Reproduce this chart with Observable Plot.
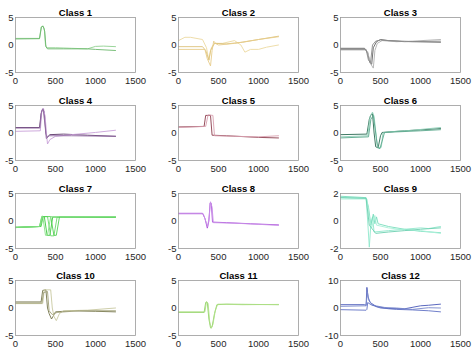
<!DOCTYPE html>
<html><head><meta charset="utf-8">
<script src="https://cdn.jsdelivr.net/npm/d3@7"></script>
<script src="https://cdn.jsdelivr.net/npm/@observablehq/plot@0.6"></script>
<style>
body{margin:0;background:#fff;}
#wrap{position:relative;width:474px;height:356px;overflow:hidden;background:#fff;}
#wrap svg{position:absolute;overflow:visible;}
</style></head><body><div id="wrap"></div>
<script>
// ---- data: [x, y] points ----
const xTicks = [0, 500, 1000, 1500];
const yTicks5 = [-5, 0, 5];
const yTicks2 = [-2, 0, 2];
const yTicks10 = [-10, 0, 10];
const titles = ["Class 1","Class 2","Class 3","Class 4","Class 5","Class 6","Class 7","Class 8","Class 9","Class 10","Class 11","Class 12"];

const c1a = [[0,1.2],[300,1.2],[320,3.2],[340,3.5],[360,3.0],[375,0],[390,-0.5],[500,-0.5],[700,-0.6],[900,-0.7],[1000,-0.25],[1100,-0.2],[1250,-0.3]];
const c1b = [[0,1.1],[300,1.15],[325,3.3],[345,3.4],[365,2.5],[380,-0.3],[400,-0.7],[600,-0.7],[900,-0.7],[1000,-0.8],[1250,-1.0]];

const c2a = [[0,0.8],[80,1.4],[150,1.4],[300,1.0],[350,-0.5],[380,-2.8],[410,-0.5],[450,0.3],[550,0.3],[700,0.8],[780,0],[830,-1.3],[900,-0.8],[1000,-0.8],[1100,-0.4],[1250,0.0]];
const c2b = [[0,-0.3],[300,-0.3],[340,-1.0],[380,-2.7],[400,-1.0],[450,0.3],[600,0.2],[800,0.5],[1000,1.0],[1250,1.6]];
const c2c = [[0,-0.8],[330,-0.8],[360,-2.5],[400,-3.8],[420,-1.0],[440,0.7],[470,0.2],[500,0.0],[700,0.3],[1000,1.0],[1250,1.5]];

const c3a = [[0,-0.6],[300,-0.6],[340,-1.5],[370,-3.3],[390,-3.5],[410,-0.5],[450,0.6],[500,1.0],[600,0.8],[900,0.6],[1250,0.5]];
const c3b = [[0,-0.9],[300,-0.9],[340,-1.2],[360,-2.5],[380,-3.5],[410,-4.2],[430,-1.0],[460,0.3],[520,0.8],[700,0.6],[900,0.7],[1250,1.0]];
const c3c = [[0,-0.8],[320,-0.8],[350,-2.8],[375,-3.2],[400,0],[440,0.7],[500,0.9],[800,0.6],[1250,0.7]];

const c4a = [[0,1.0],[300,1.0],[320,3.5],[340,4.4],[360,3.8],[380,0],[395,-0.8],[430,-0.3],[600,-0.2],[900,-0.4],[1250,-0.6]];
const c4b = [[0,0.3],[310,0.4],[330,4.2],[350,4.5],[370,3.0],[390,-0.5],[400,-2.0],[430,-1.2],[500,-0.6],[700,-0.3],[1000,0.1],[1250,0.5]];
const c4c = [[0,0.9],[305,0.9],[325,4.0],[345,4.3],[365,2.0],[385,-1.0],[420,-0.5],[700,-0.5],[1250,-0.6]];

const c5a = [[0,1.1],[320,1.2],[340,3.2],[400,3.2],[420,-0.4],[600,-0.5],[1000,-0.8],[1250,-0.9]];
const c5b = [[0,1.0],[340,1.2],[370,3.3],[430,3.2],[450,-0.5],[700,-0.6],[1000,-0.7],[1250,-0.5]];

const c6a = [[0,-0.3],[330,-0.2],[360,2.5],[380,3.3],[400,3.5],[420,0],[440,-2.5],[470,-2.7],[500,-0.5],[520,0.1],[800,0.4],[1250,0.8]];
const c6b = [[0,-0.7],[340,-0.5],[370,3.0],[400,3.8],[420,3.0],[450,-1.0],[470,-2.8],[510,-2.6],[530,0],[600,0.2],[900,0.5],[1250,1.0]];
const c6c = [[0,-0.9],[350,-0.7],[380,2.5],[410,3.2],[440,0],[460,-2.3],[490,-2.9],[520,-1.5],[550,0.1],[1000,0.4],[1250,0.6]];

const c7a = [[0,-1.2],[300,-1.0],[330,0.8],[360,0.8],[395,-2.6],[430,-2.6],[465,0.7],[1250,0.7]];
const c7b = [[0,-1.2],[310,-1.0],[340,0.8],[400,0.8],[440,-2.7],[480,-2.7],[520,0.7],[1250,0.75]];
const c7c = [[0,-1.1],[320,-1.0],[345,0.8],[440,0.8],[480,-2.6],[510,-2.6],[550,0.8],[1250,0.7]];
const c7d = [[0,-1.15],[300,-1.0],[330,0.9],[340,0.9],[375,-2.6],[400,-2.6],[440,0.8],[1250,0.8]];

const c8a = [[0,1.4],[300,1.4],[330,0.5],[360,-1.3],[380,0],[395,3.3],[410,3.2],[425,-0.2],[600,-0.3],[900,-0.5],[1250,-0.7]];
const c8b = [[0,1.3],[310,1.3],[340,0],[365,-1.0],[385,1.0],[400,3.5],[420,2.5],[435,-0.3],[700,-0.4],[1000,-0.6],[1250,-0.8]];

const c9a = [[0,1.7],[320,1.65],[340,0],[360,-1.9],[380,-0.2],[400,0.3],[420,-0.8],[600,-0.7],[800,-0.6],[1000,-0.5],[1100,-0.55],[1250,-0.4]];
const c9b = [[0,1.8],[320,1.7],[350,1.0],[380,-0.3],[410,0.5],[430,-0.2],[450,0.3],[470,-0.2],[600,-0.4],[800,-0.6],[1000,-0.75],[1250,-0.85]];
const c9c = [[0,1.6],[330,1.6],[360,0.2],[390,-0.5],[430,0.4],[450,-0.3],[600,-0.5],[800,-0.65],[1000,-0.7],[1250,-0.9]];
const c9d = [[0,1.7],[320,1.65],[360,-0.3],[440,-0.9],[600,-0.8],[800,-0.7],[1000,-0.6],[1250,-0.5]];

const c10a = [[0,1.1],[320,1.1],[340,3.2],[380,3.3],[400,0],[420,-1.0],[450,-2.0],[470,-1.5],[500,-0.7],[700,-0.5],[1000,-0.6],[1250,-0.7]];
const c10b = [[0,0.8],[340,0.8],[360,3.3],[440,3.3],[460,0],[480,-1.5],[510,-2.3],[550,-1.0],[600,-0.5],[900,-0.4],[1250,0.0]];
const c10c = [[0,0.9],[330,0.9],[350,2.8],[400,3.0],[420,-0.5],[460,-1.2],[520,-0.8],[800,-0.5],[1250,-0.5]];

const c11a = [[0,-0.8],[320,-0.8],[340,1.0],[360,1.0],[380,-2.0],[400,-3.6],[420,-3.4],[450,-1.0],[480,0.6],[600,0.7],[1250,0.6]];
const c11b = [[0,-0.7],[330,-0.7],[350,1.2],[370,0.8],[390,-2.5],[410,-3.7],[430,-3.0],[460,-0.5],[490,0.7],[800,0.6],[1250,0.65]];

const c12a = [[0,1.2],[300,1.2],[320,1.0],[330,7.5],[345,4.0],[370,2.0],[450,0.5],[600,-0.2],[800,-0.3],[1000,0.8],[1100,1.0],[1250,1.4]];
const c12b = [[0,0.6],[320,0.8],[335,6.0],[350,3.0],[400,1.0],[550,0.2],[700,0],[900,-0.5],[1100,0.1],[1250,0.0]];
const c12c = [[0,-0.6],[320,-0.8],[330,-0.5],[340,2.0],[380,1.2],[500,0],[700,-0.5],[900,-0.7],[1100,-1.0],[1250,-1.4]];

const seriesByClass = [
  [c1a,c1b],[c2a,c2b,c2c],[c3a,c3b,c3c],[c4a,c4b,c4c],[c5a,c5b],[c6a,c6b,c6c],
  [c7a,c7b,c7c,c7d],[c8a,c8b],[c9a,c9b,c9c,c9d],[c10a,c10b,c10c],[c11a,c11b],[c12a,c12b,c12c]
];
const colorsByClass = [
  ["#8fd08f","#6cb86c"],
  ["#ecd9a0","#dcc27a","#e6cc8a"],
  ["#606060","#b0b0b0","#888888"],
  ["#5a3468","#c8a0d8","#9068a0"],
  ["#8a3a4a","#d8a0b0"],
  ["#2a6a52","#8fd0b8","#5aa88c"],
  ["#3cc83c","#6cd86c","#50d050","#88e088"],
  ["#a848d8","#c890e8"],
  ["#90e8cc","#78dcbc","#a8f0d8","#6ccfb0"],
  ["#74744a","#c8c8a0","#a0a078"],
  ["#8cd060","#b0e088"],
  ["#4858b8","#7888cc","#6070c4"]
];
const yDomains = [[-5,5],[-5,5],[-5,5],[-5,5],[-5,5],[-5,5],[-5,5],[-5,5],[-2,2],[-5,5],[-5,5],[-10,10]];
const yTickSets = [yTicks5,yTicks5,yTicks5,yTicks5,yTicks5,yTicks5,yTicks5,yTicks5,yTicks2,yTicks5,yTicks5,yTicks10];

// ---- layout ----
const colLeft = [15, 177.5, 340];
const rowTop = [17, 105, 192.5, 280];
const PW = 120, PH = 55, ML = 16, MR = 14, MT = 17, MB = 16;
const wrap = document.getElementById("wrap");

titles.forEach((t, i) => {
  const col = i % 3, row = Math.floor(i / 3);
  const lines = seriesByClass[i].map((s, k) =>
    Plot.line(s, {x: d => d[0], y: d => d[1], stroke: colorsByClass[i][k], strokeWidth: 0.9}));
  const svg = Plot.plot({
    width: ML + PW + MR, height: MT + PH + MB,
    marginLeft: ML, marginRight: MR, marginTop: MT, marginBottom: MB,
    style: {fontFamily: "'Liberation Sans', Arial, sans-serif", fontSize: "9.5px", color: "#262626", background: "transparent", overflow: "visible"},
    x: {domain: [0, 1500]},
    y: {domain: yDomains[i]},
    marks: [
      Plot.axisX({ticks: xTicks, tickSize: 0, tickPadding: 5, tickFormat: d => String(d), fill: "#262626"}),
      Plot.axisY({ticks: yTickSets[i], tickSize: 0, tickPadding: 2, tickFormat: d => String(d), fill: "#262626"}),
      ...lines,
      Plot.frame({stroke: "#999999", strokeWidth: 0.8}),
      Plot.text([t], {text: d => d, frameAnchor: "top", dy: -8, fontWeight: "bold", fontSize: 9.5, fill: "#000"})
    ]
  });
  svg.style.left = (colLeft[col] - ML) + "px";
  svg.style.top = (rowTop[row] - MT) + "px";
  wrap.appendChild(svg);
});
</script>
</body></html>
